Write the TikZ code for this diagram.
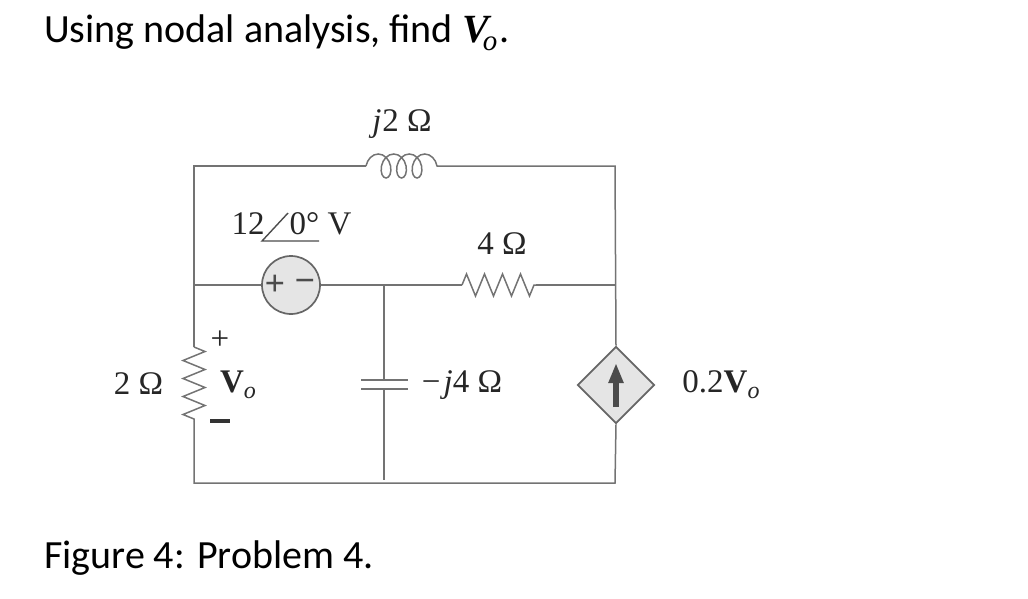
\documentclass[tikz,border=0pt]{standalone}
\usepackage{fontspec}
\setmainfont{Liberation Serif}
\newfontfamily\captionfont{Carlito}
\usetikzlibrary{shapes.geometric, decorations.pathmorphing, arrows.meta}

\begin{document}
\begin{tikzpicture}[
    x=1pt, y=-1pt,
    wire/.style={draw=black!55, line width=1.5pt},
    every node/.style={inner sep=0pt, text=black!85, font=\fontsize{33}{38}\selectfont},
    caption/.style={anchor=west, text=black, font=\captionfont\fontsize{40}{46}\selectfont},
    sign/.style={font=\bfseries\fontsize{36}{40}\selectfont, text=black!70},
    source/.style={circle, draw=black!60, line width=1.7pt, fill=black!10, minimum size=58pt},
    depsource/.style={diamond, draw=black!60, line width=1.7pt, fill=black!10, minimum size=77pt, aspect=1},
    resistor/.style={wire, decorate, decoration={zigzag, segment length=18pt, amplitude=11pt}},
    inductor/.style={wire, decorate, decoration={coil, aspect=0.7, segment length=15.5pt, amplitude=12pt}},
]

  \useasboundingbox (0,0) rectangle (1028,598);

  % CORNERS AND JUNCTIONS
  \coordinate (tl) at (194,166);
  \coordinate (tr) at (615,166);
  \coordinate (bl) at (194,483);
  \coordinate (br) at (615,483);
  \coordinate (ml) at (194,285);
  \coordinate (mc) at (384,285);
  \coordinate (mr) at (615,285);
  \coordinate (bc) at (384,483);
  \coordinate (la) at (366,166);
  \coordinate (lb) at (438,166);
  \coordinate (ra) at (462,285);
  \coordinate (rb) at (536,285);
  \coordinate (sa) at (194,347);
  \coordinate (sb) at (194,421);
  \coordinate (ca) at (384,380);
  \coordinate (cb) at (384,389);
  \coordinate (pa) at (361,380);
  \coordinate (pb) at (408,380);
  \coordinate (pc) at (361,389);
  \coordinate (pd) at (408,389);
  \coordinate (arrowbot) at (616,407);
  \coordinate (arrowtop) at (616,363);
  \coordinate (anglea) at (262,241);
  \coordinate (angleb) at (288,213);
  \coordinate (anglec) at (319,241);

  % SOURCES
  \node[source] (vs) at (291,285) {};
  \node[depsource] (cs) at (616,385) {};

  % WIRES
  \draw[wire] (la) -- (tl) -- (sa);
  \draw[wire] (lb) -- (tr) -- (cs.north);
  \draw[wire] (sb) -- (bl) -- (br) -- (cs.south);
  \draw[wire] (ml) -- (vs.west);
  \draw[wire] (vs.east) -- (ra);
  \draw[wire] (rb) -- (mr);
  \draw[wire] (mc) -- (ca);
  \draw[wire] (cb) -- ([yshift=3pt]bc);
  \draw[wire] (pa) -- (pb);
  \draw[wire] (pc) -- (pd);
  \draw[resistor] (sa) -- (sb);
  \draw[resistor] (ra) -- (rb);
  \draw[inductor] (la) -- (lb);
  \draw[black!70, line width=6.5pt, -{Triangle[length=20pt, width=14pt]}] (arrowbot) -- (arrowtop);
  \draw[black!70, line width=1.4pt] (angleb) -- (anglea) -- (anglec);

  % LABELS
  \node[caption, anchor=base west] (title) at (44,42) {Using nodal analysis, find {\rmfamily\itshape\bfseries\fontsize{40}{46}\selectfont V\kern-6pt\raisebox{-8pt}{\mdseries\fontsize{29}{30}\selectfont o}}\kern2pt.};
  \node[caption] (fig) at (44,558) {Figure 4: Problem 4.};
  \node (ltext) at (402,124) {\textit{j}\kern1pt 2 Ω};
  \node (vtext) at (291.5,224) {12\hspace{25pt}0° V};
  \node (rtext) at (502,244) {4 Ω};
  \node (stext) at (138.5,384) {2 Ω};
  \node (ctext) at (462,385.5) {−\kern3pt\textit{j}4 Ω};
  \node (dtext) at (721,385) {0.2\textbf{V}\raisebox{-6pt}{\fontsize{24}{24}\selectfont\textit{o}}};
  \node (vo) at (238,385) {\textbf{V}\raisebox{-6pt}{\fontsize{24}{24}\selectfont\textit{o}}};
  \node (plus) at (220,340) {+};
  \node[minimum width=20pt, minimum height=4.5pt, fill=black!80] (minus) at (220,421) {};
  \node[sign] (vsplus) at (275,285) {+};
  \node[sign] (vsminus) at (305,286) {−};

\end{tikzpicture}
\end{document}
